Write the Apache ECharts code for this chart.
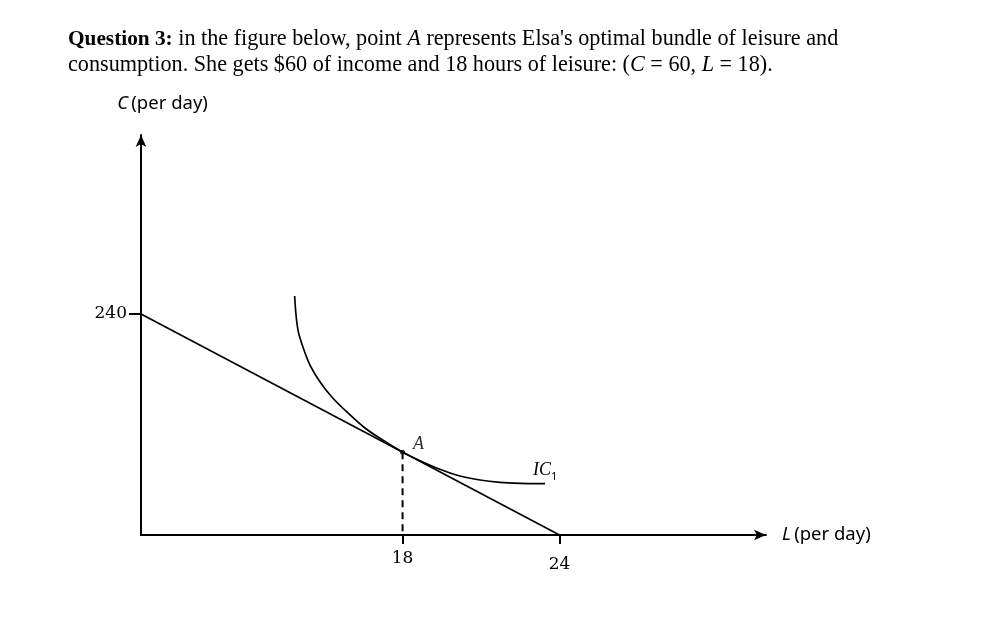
<!DOCTYPE html>
<html>
<head>
<meta charset="utf-8">
<script src="https://cdn.jsdelivr.net/npm/echarts@6/dist/echarts.min.js"></script>
<style>html,body{margin:0;padding:0;background:#fff}#c{width:1006px;height:624px}</style>
</head>
<body>
<div id="c"></div>
<script>
// Diagram values (schematic units as drawn in the figure)
const budgetLine = [[0, 240], [24, 0]];
const icCurve = [
  [8.81, 259.6], [8.89, 238.9], [9.02, 220.8], [9.31, 202.8], [9.69, 184.6],
  [10.26, 166.5], [10.93, 150.2], [11.79, 133.9], [12.75, 117.6], [13.70, 105.0],
  [15.0, 90.0], [16.00, 80.7], [17.14, 71.4], [18.29, 64.1], [19.44, 59.7],
  [20.58, 57.2], [21.73, 56.1], [23.17, 55.7]
];
const pointA = [15, 90];
const dropLine = [[15, 90], [15, 0]];
const xTickValues = [15, 24];
const xTickLabels = ['18', '24'];
const yTickValues = [240];
const yTickLabels = ['240'];

const chart = echarts.init(document.getElementById('c'));
const serif = 'Liberation Serif';
const mathFont = 'DejaVu Serif';
const sans = 'Noto Sans';

chart.setOption({
  animation: false,
  backgroundColor: '#fff',
  title: {
    left: 63, top: 21,
    text: '{b|Question 3:}{r| in the figure below, point }{i|A}{r| represents Elsa\'s optimal bundle of leisure and}\n' +
          '{r|consumption. She gets $60 of income and 18 hours of leisure: (}{i|C}{r| = 60, }{i|L}{r| = 18).}',
    textStyle: {
      fontWeight: 'normal',
      rich: {
        b: {fontFamily: serif, fontSize: 21.3, fontWeight: 'bold', color: '#000', lineHeight: 26},
        r: {fontFamily: serif, fontSize: 22.2, fontWeight: 'normal', color: '#000', lineHeight: 26},
        i: {fontFamily: serif, fontSize: 22.2, fontWeight: 'normal', fontStyle: 'italic', color: '#000', lineHeight: 26}
      }
    }
  },
  grid: {left: 141, top: 135, right: 240, bottom: 89, containLabel: false},
  xAxis: {
    type: 'value', min: 0, max: 35.84,
    splitLine: {show: false},
    name: '{i|L} {n|(per day)}',
    nameLocation: 'end', nameGap: 16,
    nameTextStyle: {
      rich: {
        i: {fontFamily: sans, fontSize: 18.5, fontStyle: 'italic', color: '#000'},
        n: {fontFamily: sans, fontSize: 18.5, color: '#000'}
      }
    },
    axisLine: {show: true, onZero: false, symbol: ['none', 'arrow'], symbolSize: [8, 12],
      lineStyle: {color: '#000', width: 2}},
    axisTick: {show: true, customValues: xTickValues, length: 9, lineStyle: {color: '#000', width: 2}},
    axisLabel: {
      show: true, customValues: xTickValues, margin: 15,
      formatter: function (v) {
        const i = xTickValues.indexOf(v);
        const t = i >= 0 ? xTickLabels[i] : '';
        return i === 1 ? '{d|' + t + '}' : '{u|' + t + '}';
      },
      rich: {
        u: {fontFamily: mathFont, fontSize: 17, color: '#000'},
        d: {fontFamily: mathFont, fontSize: 17, color: '#000', padding: [6, 0, 0, 0]}
      }
    }
  },
  yAxis: {
    type: 'value', min: 0, max: 434.4,
    splitLine: {show: false},
    name: '{i|C} {n|(per day)}',
    nameLocation: 'end', nameGap: 22,
    nameTextStyle: {
      align: 'center', padding: [0, 0, 0, 43],
      rich: {
        i: {fontFamily: sans, fontSize: 18.5, fontStyle: 'italic', color: '#000'},
        n: {fontFamily: sans, fontSize: 18.5, color: '#000'}
      }
    },
    axisLine: {show: true, onZero: false, symbol: ['none', 'arrow'], symbolSize: [8, 12],
      lineStyle: {color: '#000', width: 2}},
    axisTick: {show: true, customValues: yTickValues, length: 12, lineStyle: {color: '#000', width: 2}},
    axisLabel: {
      show: true, customValues: yTickValues, margin: 14,
      fontFamily: mathFont, fontSize: 17, color: '#000',
      formatter: function (v) {
        const i = yTickValues.indexOf(v);
        return i >= 0 ? yTickLabels[i] : '';
      }
    }
  },
  series: [
    {
      name: 'Budget line', type: 'line', data: budgetLine, symbol: 'none',
      lineStyle: {color: '#000', width: 1.7}, z: 3
    },
    {
      name: 'IC1', type: 'line', data: icCurve, symbol: 'none', smooth: 0.3,
      lineStyle: {color: '#000', width: 1.7}, z: 3,
      endLabel: {
        show: true, position: 'top', offset: [-20, -13],
        formatter: '{i|IC}{s|1}',
        rich: {
          i: {fontFamily: serif, fontSize: 18, fontStyle: 'italic', color: '#000', verticalAlign: 'bottom'},
          s: {fontFamily: sans, fontSize: 11, color: '#000', verticalAlign: 'bottom', padding: [0, 0, -3, 0]}
        }
      }
    },
    {
      name: 'Drop', type: 'line', data: dropLine, symbol: 'none',
      lineStyle: {color: '#000', width: 2, type: [7, 5]}, z: 2
    },
    {
      name: 'A', type: 'scatter', data: [pointA], symbol: 'circle', symbolSize: 5,
      itemStyle: {color: '#000'}, z: 5,
      label: {
        show: true, position: 'right', offset: [3, -8], formatter: 'A',
        fontFamily: serif, fontSize: 18, fontStyle: 'italic', color: '#000'
      }
    }
  ]
});
</script>
</body>
</html>
